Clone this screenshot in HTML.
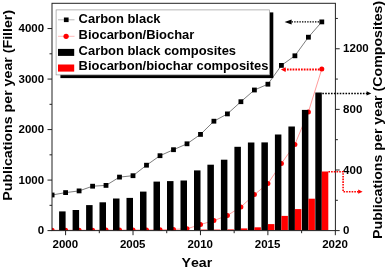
<!DOCTYPE html>
<html><head><meta charset="utf-8"><title>Publications per year</title>
<style>html,body{margin:0;padding:0;background:#fff}svg{display:block}text{font-family:"Liberation Sans",Arial,sans-serif;font-weight:bold;fill:#000}</style>
</head><body>
<svg width="387" height="269" viewBox="0 0 387 269">
<rect width="387" height="269" fill="#fff"/>
<defs><clipPath id="plot"><rect x="52.0" y="3.3" width="283.4" height="227.3"/></clipPath></defs>
<g clip-path="url(#plot)">
<polyline points="52.1,195.0 65.6,192.6 79.1,190.9 92.6,186.2 106.0,185.4 119.5,177.1 133.0,175.7 146.5,165.2 160.0,155.7 173.5,149.7 187.0,143.8 200.5,134.4 213.9,121.2 227.4,113.9 240.9,101.7 254.4,90.0 267.9,84.2 281.4,65.4 294.9,55.8 308.4,37.2 321.8,21.9" fill="none" stroke="#666" stroke-width="0.85"/>
<rect x="49.7" y="192.6" width="4.8" height="4.8" fill="#000"/>
<rect x="63.2" y="190.2" width="4.8" height="4.8" fill="#000"/>
<rect x="76.7" y="188.5" width="4.8" height="4.8" fill="#000"/>
<rect x="90.2" y="183.8" width="4.8" height="4.8" fill="#000"/>
<rect x="103.6" y="183.0" width="4.8" height="4.8" fill="#000"/>
<rect x="117.1" y="174.7" width="4.8" height="4.8" fill="#000"/>
<rect x="130.6" y="173.3" width="4.8" height="4.8" fill="#000"/>
<rect x="144.1" y="162.8" width="4.8" height="4.8" fill="#000"/>
<rect x="157.6" y="153.3" width="4.8" height="4.8" fill="#000"/>
<rect x="171.1" y="147.3" width="4.8" height="4.8" fill="#000"/>
<rect x="184.6" y="141.4" width="4.8" height="4.8" fill="#000"/>
<rect x="198.1" y="132.0" width="4.8" height="4.8" fill="#000"/>
<rect x="211.5" y="118.8" width="4.8" height="4.8" fill="#000"/>
<rect x="225.0" y="111.5" width="4.8" height="4.8" fill="#000"/>
<rect x="238.5" y="99.3" width="4.8" height="4.8" fill="#000"/>
<rect x="252.0" y="87.6" width="4.8" height="4.8" fill="#000"/>
<rect x="265.5" y="81.8" width="4.8" height="4.8" fill="#000"/>
<rect x="279.0" y="63.0" width="4.8" height="4.8" fill="#000"/>
<rect x="292.5" y="53.4" width="4.8" height="4.8" fill="#000"/>
<rect x="306.0" y="34.8" width="4.8" height="4.8" fill="#000"/>
<rect x="319.4" y="19.5" width="4.8" height="4.8" fill="#000"/>
<polyline points="52.1,230.2 65.6,230.2 79.1,230.2 92.6,230.2 106.0,230.1 119.5,230.1 133.0,230.0 146.5,229.9 160.0,229.8 173.5,229.4 187.0,228.8 200.5,224.5 213.9,220.6 227.4,215.4 240.9,207.0 254.4,194.6 267.9,183.6 281.4,163.5 294.9,144.5 308.4,111.9 321.8,69.0" fill="none" stroke="#ff7a7a" stroke-width="0.75"/>
<circle cx="52.1" cy="230.2" r="2.5" fill="#f00"/>
<circle cx="65.6" cy="230.2" r="2.5" fill="#f00"/>
<circle cx="79.1" cy="230.2" r="2.5" fill="#f00"/>
<circle cx="92.6" cy="230.2" r="2.5" fill="#f00"/>
<circle cx="106.0" cy="230.1" r="2.5" fill="#f00"/>
<circle cx="119.5" cy="230.1" r="2.5" fill="#f00"/>
<circle cx="133.0" cy="230.0" r="2.5" fill="#f00"/>
<circle cx="146.5" cy="229.9" r="2.5" fill="#f00"/>
<circle cx="160.0" cy="229.8" r="2.5" fill="#f00"/>
<circle cx="173.5" cy="229.4" r="2.5" fill="#f00"/>
<circle cx="187.0" cy="228.8" r="2.5" fill="#f00"/>
<circle cx="200.5" cy="224.5" r="2.5" fill="#f00"/>
<circle cx="213.9" cy="220.6" r="2.5" fill="#f00"/>
<circle cx="227.4" cy="215.4" r="2.5" fill="#f00"/>
<circle cx="240.9" cy="207.0" r="2.5" fill="#f00"/>
<circle cx="254.4" cy="194.6" r="2.5" fill="#f00"/>
<circle cx="267.9" cy="183.6" r="2.5" fill="#f00"/>
<circle cx="281.4" cy="163.5" r="2.5" fill="#f00"/>
<circle cx="294.9" cy="144.5" r="2.5" fill="#f00"/>
<circle cx="308.4" cy="111.9" r="2.5" fill="#f00"/>
<circle cx="321.8" cy="69.0" r="2.5" fill="#f00"/>
<rect x="59.1" y="211.4" width="6.5" height="19.2" fill="#000"/>
<rect x="72.6" y="210.0" width="6.5" height="20.6" fill="#000"/>
<rect x="86.1" y="205.1" width="6.5" height="25.5" fill="#000"/>
<rect x="99.5" y="202.3" width="6.5" height="28.3" fill="#000"/>
<rect x="113.0" y="198.5" width="6.5" height="32.1" fill="#000"/>
<rect x="126.5" y="197.9" width="6.5" height="32.7" fill="#000"/>
<rect x="140.0" y="191.6" width="6.5" height="39.0" fill="#000"/>
<rect x="153.5" y="181.6" width="6.5" height="49.0" fill="#000"/>
<rect x="167.0" y="181.1" width="6.5" height="49.5" fill="#000"/>
<rect x="180.5" y="180.5" width="6.5" height="50.1" fill="#000"/>
<rect x="194.0" y="170.4" width="6.5" height="60.2" fill="#000"/>
<rect x="207.4" y="164.7" width="6.5" height="65.9" fill="#000"/>
<rect x="220.9" y="159.7" width="6.5" height="70.9" fill="#000"/>
<rect x="234.4" y="146.8" width="6.5" height="83.8" fill="#000"/>
<rect x="247.9" y="142.5" width="6.5" height="88.1" fill="#000"/>
<rect x="261.4" y="142.4" width="6.5" height="88.2" fill="#000"/>
<rect x="274.9" y="134.5" width="6.5" height="96.1" fill="#000"/>
<rect x="288.4" y="126.5" width="6.5" height="104.1" fill="#000"/>
<rect x="301.9" y="109.9" width="6.5" height="120.7" fill="#000"/>
<rect x="315.3" y="92.5" width="6.5" height="138.1" fill="#000"/>
<rect x="200.5" y="229.6" width="6.5" height="1.0" fill="#f00"/>
<rect x="213.9" y="229.6" width="6.5" height="1.0" fill="#f00"/>
<rect x="227.4" y="229.4" width="6.5" height="1.2" fill="#f00"/>
<rect x="240.9" y="228.4" width="6.5" height="2.2" fill="#f00"/>
<rect x="254.4" y="227.3" width="6.5" height="3.3" fill="#f00"/>
<rect x="267.9" y="224.1" width="6.5" height="6.5" fill="#f00"/>
<rect x="281.4" y="215.9" width="6.5" height="14.7" fill="#f00"/>
<rect x="294.9" y="209.1" width="6.5" height="21.5" fill="#f00"/>
<rect x="308.4" y="198.7" width="6.5" height="31.9" fill="#f00"/>
<rect x="321.8" y="171.5" width="6.5" height="59.1" fill="#f00"/>
</g>
<rect x="52.0" y="3.3" width="283.4" height="227.3" fill="none" stroke="#222" stroke-width="1"/>
<line x1="47.5" y1="230.60" x2="52.0" y2="230.60" stroke="#222" stroke-width="1"/>
<line x1="49.5" y1="205.34" x2="52.0" y2="205.34" stroke="#222" stroke-width="1"/>
<line x1="47.5" y1="180.09" x2="52.0" y2="180.09" stroke="#222" stroke-width="1"/>
<line x1="49.5" y1="154.83" x2="52.0" y2="154.83" stroke="#222" stroke-width="1"/>
<line x1="47.5" y1="129.58" x2="52.0" y2="129.58" stroke="#222" stroke-width="1"/>
<line x1="49.5" y1="104.32" x2="52.0" y2="104.32" stroke="#222" stroke-width="1"/>
<line x1="47.5" y1="79.07" x2="52.0" y2="79.07" stroke="#222" stroke-width="1"/>
<line x1="49.5" y1="53.81" x2="52.0" y2="53.81" stroke="#222" stroke-width="1"/>
<line x1="47.5" y1="28.56" x2="52.0" y2="28.56" stroke="#222" stroke-width="1"/>
<line x1="335.4" y1="230.60" x2="339.7" y2="230.60" stroke="#222" stroke-width="1"/>
<line x1="335.4" y1="200.29" x2="337.9" y2="200.29" stroke="#222" stroke-width="1"/>
<line x1="335.4" y1="169.99" x2="339.7" y2="169.99" stroke="#222" stroke-width="1"/>
<line x1="335.4" y1="139.68" x2="337.9" y2="139.68" stroke="#222" stroke-width="1"/>
<line x1="335.4" y1="109.37" x2="339.7" y2="109.37" stroke="#222" stroke-width="1"/>
<line x1="335.4" y1="79.07" x2="337.9" y2="79.07" stroke="#222" stroke-width="1"/>
<line x1="335.4" y1="48.76" x2="339.7" y2="48.76" stroke="#222" stroke-width="1"/>
<line x1="335.4" y1="18.45" x2="337.9" y2="18.45" stroke="#222" stroke-width="1"/>
<line x1="65.59" y1="230.6" x2="65.59" y2="235.2" stroke="#222" stroke-width="1"/>
<line x1="99.30" y1="230.6" x2="99.30" y2="233.2" stroke="#222" stroke-width="1"/>
<line x1="133.02" y1="230.6" x2="133.02" y2="235.2" stroke="#222" stroke-width="1"/>
<line x1="166.74" y1="230.6" x2="166.74" y2="233.2" stroke="#222" stroke-width="1"/>
<line x1="200.46" y1="230.6" x2="200.46" y2="235.2" stroke="#222" stroke-width="1"/>
<line x1="234.17" y1="230.6" x2="234.17" y2="233.2" stroke="#222" stroke-width="1"/>
<line x1="267.89" y1="230.6" x2="267.89" y2="235.2" stroke="#222" stroke-width="1"/>
<line x1="301.61" y1="230.6" x2="301.61" y2="233.2" stroke="#222" stroke-width="1"/>
<line x1="335.33" y1="230.6" x2="335.33" y2="235.2" stroke="#222" stroke-width="1"/>
<text x="44.1" y="234.4" font-size="11.5" text-anchor="end">0</text>
<text x="44.1" y="183.9" font-size="11.5" text-anchor="end">1000</text>
<text x="44.1" y="133.4" font-size="11.5" text-anchor="end">2000</text>
<text x="44.1" y="82.9" font-size="11.5" text-anchor="end">3000</text>
<text x="44.1" y="32.4" font-size="11.5" text-anchor="end">4000</text>
<text x="343.1" y="234.2" font-size="11.5">0</text>
<text x="343.1" y="173.6" font-size="11.5">400</text>
<text x="343.1" y="113.0" font-size="11.5">800</text>
<text x="343.1" y="52.4" font-size="11.5">1200</text>
<text x="65.3" y="248" font-size="11.5" text-anchor="middle">2000</text>
<text x="132.7" y="248" font-size="11.5" text-anchor="middle">2005</text>
<text x="200.2" y="248" font-size="11.5" text-anchor="middle">2010</text>
<text x="267.6" y="248" font-size="11.5" text-anchor="middle">2015</text>
<text x="335.0" y="248" font-size="11.5" text-anchor="middle">2020</text>
<text transform="translate(196.9,266.6) scale(1.067,1)" font-size="13.3" text-anchor="middle" style="font-kerning:none">Year</text>
<text transform="translate(11.7,105.3) rotate(-90) scale(1.067,1)" font-size="13.3" text-anchor="middle" style="font-kerning:none">Publications per year (Filler)</text>
<text transform="translate(381.7,119.9) rotate(-90) scale(1.067,1)" font-size="13.3" text-anchor="middle" style="font-kerning:none">Publications per year (Composites)</text>
<rect x="60.4" y="12.4" width="212.9" height="65.7" fill="#000"/>
<rect x="56.1" y="9.9" width="213.5" height="65.0" fill="#fff" stroke="#999" stroke-width="0.7"/>
<line x1="58" y1="19.8" x2="74.5" y2="19.8" stroke="#b0b0b0" stroke-width="0.9"/>
<rect x="63.9" y="17.5" width="4.7" height="4.6" fill="#000"/>
<line x1="58" y1="36.3" x2="74.5" y2="36.3" stroke="#ffb0b0" stroke-width="0.9"/>
<circle cx="66.1" cy="36.3" r="2.65" fill="#f00"/>
<rect x="58" y="48.9" width="16.2" height="7" fill="#000"/>
<rect x="58" y="64.5" width="16.2" height="7.1" fill="#f00"/>
<text x="78.6" y="22.9" font-size="12.95">Carbon black</text>
<text x="78.6" y="38.5" font-size="12.95">Biocarbon/Biochar</text>
<text x="78.6" y="54.6" font-size="12.95">Carbon black composites</text>
<text x="78.6" y="70.2" font-size="12.95">Biocarbon/biochar composites</text>
<line x1="319" y1="21.9" x2="290" y2="21.9" stroke="#000" stroke-width="1.4" stroke-dasharray="1.4 1.2"/>
<polygon points="284.6,21.9 291.6,19.4 291.6,24.4" fill="#000"/>
<line x1="319.5" y1="69.6" x2="285" y2="69.6" stroke="#f00" stroke-width="2" stroke-dasharray="1.7 1.1"/>
<polygon points="280.9,69.6 285.6,67.3 285.6,71.9" fill="#f00"/>
<line x1="322.3" y1="93.4" x2="367" y2="93.4" stroke="#000" stroke-width="1.5" stroke-dasharray="1.6 1.3"/>
<polygon points="371.3,93.4 366.6,91.3 366.6,95.5" fill="#000"/>
<polyline points="328.4,171.7 343.1,171.7 343.1,191.7 358.5,191.7" fill="none" stroke="#f00" stroke-width="1.6" stroke-dasharray="1.6 1.1"/>
<polygon points="362.6,191.7 358.2,189.6 358.2,193.8" fill="#f00"/>
</svg>
</body></html>
